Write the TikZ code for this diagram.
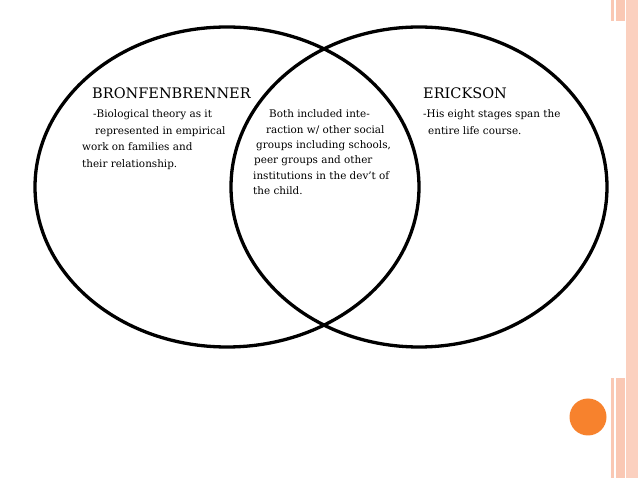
\documentclass[tikz,border=0pt]{standalone}
\usepackage{fontspec}
\setmainfont{DejaVu Serif}
\definecolor{salmon}{RGB}{250,200,180}
\definecolor{dot}{RGB}{247,130,45}
\tikzset{txt/.style={anchor=base west,inner sep=0pt,font=\fontsize{10.4}{13}\selectfont},
head/.style={anchor=base west,inner sep=0pt,font=\fontsize{14.5}{16}\selectfont},
ring/.style={line width=3.3pt}}
\begin{document}
\begin{tikzpicture}[x=1pt,y=-1pt]
\useasboundingbox (0,0) rectangle (638,478);
\fill[white] (0,0) rectangle (638,478);
\fill[salmon] (611,0) rectangle (613.5,478);
\fill[salmon] (616,0) rectangle (625,478);
\fill[salmon!85] (626,0) rectangle (638,478);
\fill[white] (0,21) rectangle (625,378);
\fill[dot] (588,417) circle (18.5);
\draw[ring] (227,187) ellipse (192 and 160);
\draw[ring] (419,187) ellipse (188 and 160);
\node[head] (b) at (92,99) {BRONFENBRENNER};
\node[head] (e) at (423,99) {ERICKSON};
\node[txt] (l1) at (93,118) {-Biological theory as it};
\node[txt] (l2) at (95,135) {represented in empirical};
\node[txt] (l3) at (82,151) {work on families and};
\node[txt] (l4) at (82,168) {their relationship.};
\node[txt] (m1) at (269,118) {Both included inte-};
\node[txt] (m2) at (266,134) {raction w/ other social};
\node[txt] (m3) at (256,149) {groups including schools,};
\node[txt] (m4) at (254,164) {peer groups and other};
\node[txt] (m5) at (253,180) {institutions in the dev’t of};
\node[txt] (m6) at (253,195) {the child.};
\node[txt] (r1) at (423,118) {-His eight stages span the};
\node[txt] (r2) at (428,135) {entire life course.};
\end{tikzpicture}
\end{document}
